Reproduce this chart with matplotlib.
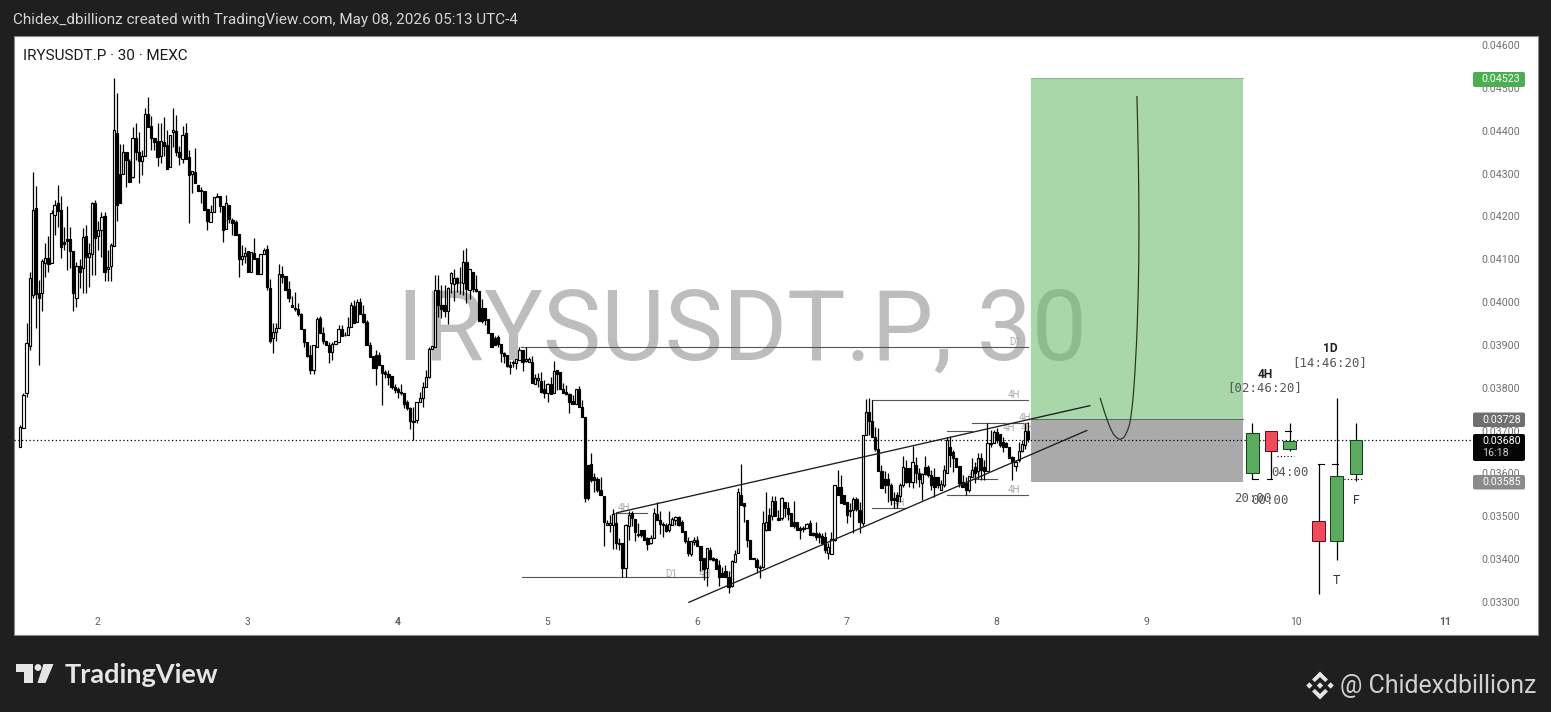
import matplotlib
matplotlib.use("Agg")
import matplotlib.pyplot as plt
import numpy as np
from matplotlib.patches import Rectangle, FancyBboxPatch, Polygon, PathPatch
from matplotlib.path import Path
from matplotlib.transforms import IdentityTransform

# 30m candles, prices in 1e-5 units
opens = [
    3662, 3705, 3788, 3898, 4016, 4219, 4020, 4020, 4090, 4102,
    4090, 4203, 4230, 4215, 4141, 4147, 4147, 4119, 4009, 4083,
    4079, 4153, 4104, 4112, 4230, 4154, 4168, 4201, 4077, 4085,
    4131, 4394, 4300, 4299, 4351, 4330, 4293, 4384, 4351, 4330,
    4342, 4440, 4412, 4384, 4376, 4342, 4374, 4367, 4316, 4396,
    4399, 4351, 4335, 4394, 4338, 4300, 4304, 4273, 4262, 4260,
    4217, 4186, 4209, 4244, 4248, 4225, 4170, 4226, 4191, 4187,
    4159, 4100, 4108, 4118, 4069, 4115, 4102, 4065, 4112, 4123,
    4032, 3915, 3929, 3940, 4065, 4061, 4030, 3993, 3987, 3983,
    3972, 3938, 3907, 3876, 3841, 3896, 3962, 3928, 3909, 3900,
    3883, 3903, 3907, 3937, 3923, 3922, 3941, 3991, 3954, 4001,
    3972, 3954, 3900, 3874, 3876, 3876, 3853, 3837, 3831, 3827,
    3802, 3798, 3791, 3787, 3767, 3752, 3719, 3725, 3766, 3777,
    3802, 3824, 3891, 3894, 4028, 3993, 3993, 3980, 4044, 4042,
    4055, 4046, 4045, 4094, 4028, 4071, 4030, 4026, 3987, 3987,
    3960, 3928, 3917, 3919, 3902, 3882, 3876, 3854, 3861, 3857,
    3865, 3888, 3862, 3861, 3859, 3809, 3818, 3815, 3796, 3787,
    3809, 3787, 3841, 3836, 3796, 3789, 3785, 3769, 3763, 3797,
    3756, 3732, 3619, 3621, 3591, 3586, 3561, 3548, 3480, 3479,
    3479, 3485, 3438, 3437, 3378, 3476, 3507, 3494, 3456, 3468,
    3468, 3448, 3437, 3448, 3505, 3491, 3481, 3480, 3468, 3480,
    3491, 3499, 3487, 3466, 3441, 3412, 3440, 3445, 3431, 3402,
    3378, 3421, 3402, 3399, 3386, 3368, 3371, 3359, 3336, 3394,
    3413, 3550, 3530, 3491, 3445, 3403, 3398, 3382, 3381, 3468,
    3503, 3501, 3536, 3495, 3495, 3534, 3518, 3508, 3487, 3487,
    3472, 3470, 3472, 3485, 3460, 3460, 3459, 3454, 3452, 3413,
    3412, 3445, 3567, 3569, 3550, 3532, 3515, 3515, 3539, 3515,
    3483, 3690, 3744, 3723, 3686, 3658, 3606, 3588, 3588, 3573,
    3542, 3550, 3546, 3573, 3612, 3612, 3581, 3620, 3600, 3578,
    3616, 3616, 3596, 3592, 3592, 3561, 3573, 3602, 3662, 3651,
    3637, 3617, 3581, 3577, 3561, 3592, 3614, 3606, 3637, 3616,
    3606, 3669, 3670, 3697, 3693, 3674, 3672, 3662, 3639, 3617,
    3631, 3653, 3666, 3700,
]
closes = [
    3708, 3783, 3904, 4055, 4215, 4018, 4009, 4096, 4102, 4089,
    4207, 4226, 4212, 4129, 4135, 4142, 4118, 4020, 4083, 4071,
    4151, 4104, 4115, 4232, 4149, 4168, 4199, 4071, 4081, 4133,
    4402, 4226, 4230, 4351, 4332, 4281, 4382, 4351, 4330, 4342,
    4440, 4409, 4382, 4374, 4339, 4377, 4364, 4310, 4389, 4402,
    4351, 4338, 4391, 4335, 4297, 4307, 4279, 4258, 4258, 4215,
    4189, 4211, 4246, 4248, 4223, 4167, 4230, 4193, 4185, 4157,
    4100, 4107, 4115, 4069, 4116, 4100, 4065, 4112, 4121, 4036,
    3909, 3931, 3940, 4065, 4058, 4028, 4009, 3988, 3983, 3972,
    3936, 3907, 3874, 3841, 3900, 3960, 3927, 3909, 3900, 3883,
    3903, 3909, 3937, 3921, 3924, 3942, 3993, 3952, 4001, 3973,
    3954, 3900, 3872, 3845, 3847, 3853, 3835, 3833, 3826, 3801,
    3795, 3791, 3787, 3763, 3752, 3723, 3722, 3766, 3777, 3802,
    3826, 3890, 3897, 4028, 3993, 3983, 3979, 4032, 4067, 4055,
    4045, 4047, 4093, 4030, 4076, 4030, 4026, 3956, 3956, 3958,
    3927, 3894, 3900, 3903, 3880, 3874, 3851, 3849, 3857, 3866,
    3888, 3861, 3866, 3866, 3812, 3823, 3822, 3791, 3787, 3809,
    3785, 3840, 3833, 3796, 3787, 3785, 3767, 3763, 3797, 3756,
    3732, 3542, 3542, 3585, 3585, 3561, 3549, 3487, 3483, 3483,
    3504, 3438, 3436, 3378, 3480, 3503, 3495, 3462, 3459, 3455,
    3445, 3435, 3448, 3507, 3491, 3481, 3479, 3466, 3482, 3493,
    3499, 3479, 3464, 3441, 3413, 3442, 3445, 3431, 3398, 3376,
    3425, 3400, 3398, 3376, 3359, 3359, 3359, 3334, 3396, 3412,
    3557, 3526, 3524, 3445, 3400, 3399, 3381, 3380, 3485, 3487,
    3468, 3536, 3501, 3491, 3542, 3518, 3504, 3476, 3476, 3468,
    3468, 3473, 3482, 3456, 3456, 3452, 3451, 3437, 3420, 3429,
    3446, 3572, 3550, 3530, 3529, 3503, 3511, 3539, 3516, 3487,
    3690, 3744, 3723, 3686, 3658, 3606, 3565, 3573, 3573, 3538,
    3538, 3536, 3573, 3616, 3581, 3581, 3627, 3602, 3587, 3598,
    3599, 3596, 3573, 3569, 3573, 3575, 3608, 3678, 3643, 3637,
    3616, 3577, 3569, 3561, 3594, 3609, 3600, 3637, 3608, 3606,
    3670, 3672, 3697, 3678, 3666, 3662, 3662, 3637, 3627, 3627,
    3653, 3669, 3700, 3680,
]
highs = [
    3713, 3787, 3950, 4071, 4303, 4271, 4051, 4100, 4137, 4153,
    4215, 4238, 4273, 4248, 4176, 4224, 4176, 4119, 4094, 4100,
    4172, 4180, 4137, 4234, 4238, 4188, 4209, 4209, 4121, 4137,
    4522, 4487, 4370, 4370, 4351, 4335, 4409, 4419, 4398, 4355,
    4454, 4479, 4434, 4384, 4419, 4419, 4431, 4402, 4389, 4452,
    4437, 4364, 4411, 4419, 4355, 4307, 4359, 4273, 4269, 4260,
    4217, 4226, 4246, 4255, 4248, 4225, 4250, 4226, 4195, 4191,
    4159, 4133, 4129, 4118, 4116, 4149, 4102, 4112, 4125, 4133,
    4053, 3950, 3950, 4088, 4084, 4061, 4050, 4013, 4024, 3997,
    3975, 3938, 3907, 3900, 3900, 3966, 3967, 3942, 3909, 3907,
    3907, 3909, 3946, 3946, 3930, 3964, 4001, 4005, 4008, 4010,
    3993, 3958, 3907, 3874, 3888, 3884, 3853, 3841, 3841, 3827,
    3808, 3802, 3809, 3787, 3771, 3754, 3754, 3766, 3791, 3814,
    3841, 3896, 3897, 4063, 4063, 4040, 4040, 4036, 4071, 4076,
    4059, 4082, 4121, 4125, 4076, 4071, 4063, 4026, 4008, 3987,
    3960, 3928, 3921, 3923, 3902, 3884, 3876, 3863, 3865, 3866,
    3896, 3888, 3894, 3872, 3874, 3833, 3835, 3837, 3818, 3810,
    3826, 3863, 3841, 3836, 3812, 3806, 3787, 3783, 3798, 3804,
    3771, 3732, 3619, 3647, 3600, 3592, 3592, 3548, 3491, 3503,
    3516, 3507, 3450, 3437, 3482, 3511, 3511, 3494, 3483, 3468,
    3468, 3452, 3456, 3518, 3534, 3511, 3487, 3483, 3511, 3499,
    3500, 3500, 3491, 3466, 3452, 3442, 3452, 3454, 3431, 3402,
    3425, 3427, 3404, 3402, 3398, 3382, 3386, 3371, 3398, 3421,
    3565, 3622, 3530, 3491, 3445, 3403, 3402, 3386, 3511, 3557,
    3518, 3546, 3546, 3515, 3544, 3534, 3534, 3508, 3536, 3487,
    3476, 3476, 3483, 3490, 3462, 3487, 3464, 3460, 3464, 3437,
    3464, 3572, 3608, 3596, 3550, 3532, 3530, 3544, 3544, 3534,
    3690, 3773, 3775, 3771, 3709, 3705, 3620, 3606, 3600, 3577,
    3557, 3557, 3577, 3641, 3631, 3612, 3664, 3639, 3612, 3600,
    3641, 3620, 3608, 3612, 3592, 3584, 3620, 3686, 3687, 3655,
    3637, 3617, 3596, 3592, 3594, 3637, 3627, 3647, 3647, 3631,
    3717, 3701, 3701, 3705, 3693, 3686, 3674, 3662, 3641, 3631,
    3674, 3679, 3717, 3720,
]
lows = [
    3662, 3705, 3779, 3888, 4009, 3939, 3852, 3980, 4059, 4071,
    4090, 4157, 4176, 4102, 4121, 4075, 4079, 3978, 3989, 4032,
    4020, 4020, 4036, 4062, 4063, 4121, 4106, 4050, 4050, 4050,
    4131, 4190, 4230, 4299, 4269, 4281, 4289, 4332, 4277, 4297,
    4342, 4409, 4355, 4355, 4318, 4324, 4341, 4310, 4316, 4363,
    4342, 4320, 4324, 4335, 4185, 4255, 4279, 4258, 4230, 4215,
    4168, 4186, 4209, 4244, 4209, 4141, 4170, 4185, 4157, 4157,
    4058, 4087, 4090, 4069, 4069, 4100, 4065, 4065, 4112, 4027,
    3904, 3880, 3908, 3940, 4044, 4028, 3999, 3988, 3978, 3968,
    3936, 3896, 3872, 3833, 3833, 3896, 3927, 3903, 3900, 3858,
    3865, 3903, 3907, 3921, 3920, 3922, 3941, 3952, 3954, 3973,
    3950, 3900, 3872, 3845, 3806, 3853, 3760, 3822, 3806, 3796,
    3787, 3775, 3783, 3752, 3748, 3703, 3678, 3717, 3766, 3754,
    3802, 3822, 3891, 3894, 3964, 3962, 3966, 3949, 4020, 4003,
    4024, 4019, 4016, 3998, 4008, 4024, 4024, 3956, 3950, 3946,
    3927, 3894, 3900, 3896, 3861, 3857, 3849, 3833, 3849, 3843,
    3865, 3840, 3861, 3861, 3812, 3809, 3802, 3787, 3775, 3767,
    3785, 3787, 3795, 3796, 3787, 3783, 3740, 3763, 3763, 3756,
    3732, 3534, 3538, 3581, 3557, 3557, 3549, 3431, 3479, 3462,
    3423, 3423, 3420, 3359, 3359, 3445, 3476, 3441, 3452, 3452,
    3445, 3420, 3435, 3448, 3491, 3459, 3452, 3464, 3464, 3480,
    3480, 3477, 3464, 3437, 3407, 3407, 3433, 3431, 3373, 3351,
    3336, 3398, 3396, 3376, 3336, 3359, 3359, 3320, 3334, 3394,
    3413, 3526, 3487, 3429, 3400, 3399, 3368, 3355, 3378, 3466,
    3468, 3491, 3501, 3491, 3491, 3499, 3491, 3476, 3472, 3468,
    3446, 3464, 3472, 3456, 3454, 3445, 3437, 3433, 3415, 3399,
    3412, 3441, 3550, 3530, 3529, 3483, 3499, 3460, 3511, 3460,
    3476, 3690, 3690, 3684, 3653, 3606, 3565, 3553, 3534, 3526,
    3518, 3518, 3534, 3569, 3577, 3567, 3565, 3577, 3569, 3538,
    3596, 3592, 3561, 3544, 3565, 3560, 3569, 3600, 3616, 3604,
    3616, 3569, 3567, 3550, 3557, 3592, 3577, 3588, 3584, 3584,
    3606, 3662, 3670, 3670, 3662, 3651, 3662, 3635, 3584, 3606,
    3627, 3651, 3658, 3674,
]

# higher timeframe candles on the right
proj_x = [394.9, 400.9, 406.9, 416.1, 421.9, 428.1]
proj_open = [3601, 3699, 3657, 3489, 3442, 3599]
proj_close = [3695, 3653, 3676, 3442, 3594, 3678]
proj_high = [3718, 3699, 3718, 3622, 3776, 3718]
proj_low = [3587, 3587, 3653, 3319, 3398, 3583]

# trend lines and levels (start, end, price)
wedge_upper = ([191.2, 342.8], [3508, 3758])
wedge_lower = ([214.3, 341.8], [3299, 3700])
levels = [
    (160.5, 323, 3895), (160.8, 220.3, 3358), (273, 323, 3772), (305, 323, 3718),
    (297, 305, 3699), (305, 313, 3587), (297, 323, 3550), (273, 283.5, 3519),
    (190, 200.8, 3508),
]
level_tags = [
    (318.8, 3907, "D1"), (208.5, 3365, "D1"), (219.5, 3365, "4H"), (318.5, 3782, "4H"),
    (322, 3730, "4H"), (317, 3707, "4H"), (322.5, 3707, "4H"), (318.5, 3561, "4H"),
    (281.5, 3530, "4H"), (306, 3598, "4H"), (193.5, 3518, "4H"),
]

# hand drawn path in the long box
path_x = [346.1, 347.7, 349.9, 351.5, 352.8, 354.5, 356.2, 357.6, 358.4, 358.6, 358.4, 357.9]
path_y = [3776, 3737, 3695, 3682, 3678, 3690, 3730, 3865, 4028, 4168, 4332, 4481]

last_price = 3678
price_ticks = np.arange(3300, 4601, 100)
day_ticks = [24.8, 72.8, 120.9, 168.9, 216.9, 264.8, 312.8, 360.9, 409, 456.8]
day_labels = ["2", "3", "4", "5", "6", "7", "8", "9", "10", "11"]

W, H = 1551, 712
plt.rcParams['font.family'] = ['Roboto', 'DejaVu Sans']
fig = plt.figure(figsize=(W / 100, H / 100), dpi=100, facecolor="#1f1f1f")
ident = IdentityTransform()


def box(x0, y0, x1, y1, color, z=5, ec="none", lw=0, round_px=0):
    if round_px:
        p = FancyBboxPatch((x0, H - y1), x1 - x0, y1 - y0, boxstyle="round,pad=0,rounding_size=%d" % round_px,
                           fc=color, ec=ec, lw=lw, transform=ident, zorder=z)
    else:
        p = Rectangle((x0, H - y1), x1 - x0, y1 - y0, fc=color, ec=ec, lw=lw, transform=ident, zorder=z)
    fig.add_artist(p)


def label(x, y, s, size, color, ha="left", va="center", z=6, **kw):
    t = fig.text(x / W, 1 - y / H, s, fontsize=size, color=color, ha=ha, va=va, zorder=z, **kw)
    return t


def poly(pts, cx, cy, fc="#e6e6e6"):
    fig.add_artist(Polygon([(cx + a, cy + b) for a, b in pts], fc=fc, ec="none", transform=ident, zorder=6))


box(13.5, 35.5, 1537.5, 634.5, "white", z=-1, ec="#8a8a8a", lw=0.8)

ax = fig.add_axes([14 / W, 1 - 634 / H, (1472 - 14) / W, (634 - 36) / H])
ax.set_facecolor("none")
for s in ax.spines.values():
    s.set_visible(False)
ax.set_xlim(-2.02, 465.3)
ax.set_ylim(3225, 4621)

# watermark sits under everything
ax.text(231.4, 3865, "IRYSUSDT.P, 30", fontsize=70.6, color="#bdbdbd", ha="center", va="baseline", zorder=0)

# long position box
ax.add_patch(Rectangle((323.8, 3728), 391.9 - 323.8, 4523 - 3728, fc="#6bba6b", alpha=0.58, ec="none", zorder=1))
ax.add_patch(Rectangle((323.8, 3580), 391.9 - 323.8, 3728 - 3580, fc="#777777", alpha=0.62, ec="none", zorder=1))
ax.plot([323.8, 391.9], [4523, 4523], color="#8fb892", lw=0.7, zorder=1.5)
ax.plot([323.8, 391.9], [3728, 3728], color="#5a6a5a", lw=0.7, zorder=1.5)

# last price line
ax.axhline(last_price, color="black", lw=0.9, ls=(0, (1, 2)), zorder=2)

for x0, x1, p in levels:
    ax.plot([x0, x1], [p, p], color="#555555", lw=0.8, zorder=2)
for x, p, s in level_tags:
    ax.text(x, p, s, fontsize=7, color="#a8a8a8", ha="center", va="center", zorder=2)

# candles
idx = np.arange(len(opens))
o = np.array(opens)
c = np.array(closes)
ax.vlines(idx, lows, highs, color="black", lw=0.9, zorder=3)
up = c >= o
ax.bar(idx[up], c[up] - o[up], bottom=o[up], width=0.72, color="white", edgecolor="black", lw=0.85, zorder=4)
ax.bar(idx[~up], o[~up] - c[~up], bottom=c[~up], width=0.72, color="black", edgecolor="black", lw=0.85, zorder=4)

ax.plot(wedge_upper[0], wedge_upper[1], color="#1c1c1c", lw=0.95, zorder=5)
ax.plot(wedge_lower[0], wedge_lower[1], color="#1c1c1c", lw=0.95, zorder=5)

# smooth the drawn path through its points
pts = list(zip(path_x, path_y))
verts = [pts[0]]
codes = [Path.MOVETO]
for a, b in zip(pts[1:-1], pts[2:]):
    verts += [a, ((a[0] + b[0]) / 2, (a[1] + b[1]) / 2)]
    codes += [Path.CURVE3, Path.CURVE3]
verts.append(pts[-1])
codes.append(Path.LINETO)
ax.add_patch(PathPatch(Path(verts, codes), fc="none", ec="#23341f", lw=0.85, zorder=5))

# projected candles
for x, op, cl, hi, lo in zip(proj_x, proj_open, proj_close, proj_high, proj_low):
    rising = cl >= op
    ax.vlines(x, lo, hi, color="black", lw=0.9, zorder=5)
    ax.bar(x, abs(cl - op), bottom=min(op, cl), width=4.1, color="#5aab5e" if rising else "#ef4b5c",
           edgecolor="#123d14" if rising else "#5a0f18", lw=0.7, zorder=6)

ax.set_yticks(price_ticks)
ax.set_yticklabels(["%.5f" % (p / 1e5) for p in price_ticks])
ax.yaxis.tick_right()
ax.tick_params(axis="y", length=0, pad=7, labelsize=7.7, labelcolor="#707070")
ax.set_xticks(day_ticks)
ax.set_xticklabels(day_labels)
ax.tick_params(axis="x", length=0, pad=-12, labelsize=7.4, labelcolor="#5c5c5c")
ax.get_xticklabels()[2].set_fontweight("bold")
ax.get_xticklabels()[9].set_fontweight("bold")

# price tags
box(1473, 72, 1525, 87, "#4cae50", round_px=2)
label(1481.5, 79.5, "0.04523", 7.7, "white")
box(1473, 412.5, 1525, 427, "#6f6f6f", round_px=2)
label(1482, 420, "0.03728", 7.7, "white")
box(1473, 434, 1525, 461, "#050505", round_px=2)
label(1482, 441, "0.03680", 7.7, "white")
label(1482, 453, "16:18", 7.7, "#d0d0d0")
box(1473, 475, 1525, 489.5, "#8b8b8b", round_px=2)
label(1482, 482, "0.03585", 7.7, "white")

# header, chart title
label(13, 20, "Chidex_dbillionz created with TradingView.com, May 08, 2026 05:13 UTC-4", 11.0, "#d6d6d6")
label(23, 55.5, "IRYSUSDT.P · 30 · MEXC", 10.98, "#1a1a1a")

# countdown labels
mono = "DejaVu Sans Mono"
label(1265, 374, "4H", 8.6, "#222222", ha="center", weight="bold")
label(1265, 388, "[02:46:20]", 8.9, "#555555", ha="center", family=mono)
label(1330, 349, "1D", 8.6, "#222222", ha="center", weight="bold")
label(1330, 363, "[14:46:20]", 8.9, "#555555", ha="center", family=mono)
label(1290.5, 472, "04:00", 8.9, "#555555", ha="center", family=mono)
label(1252.5, 498, "20:00", 8.9, "#555555", ha="center", family=mono)
label(1270, 500, "00:00", 8.9, "#555555", ha="center", family=mono)
label(1356, 500, "F", 8.8, "#333333", ha="center")
label(1336, 580, "T", 8.8, "#333333", ha="center")

# small bracket marks next to the projected candles
for x0, x1, yy in [(1252, 1258, 479), (1267, 1272, 479), (1285, 1291, 431), (1318, 1324, 464), (1332, 1338, 464)]:
    fig.add_artist(plt.Line2D([x0, x1], [H - yy, H - yy], color="black", lw=0.8, transform=ident, zorder=6))
for x0, x1, yy in [(1277, 1294, 456), (1344, 1363, 479)]:
    fig.add_artist(plt.Line2D([x0, x1], [H - yy, H - yy], color="black", lw=0.8, ls=(0, (1, 2)), transform=ident, zorder=6))

# footer
label(65, 675, "TradingView", 19.5, "#e6e6e6", weight="bold", family="Lato")
label(1340, 685.5, "@ Chidexdbillionz", 17.9, "#d0d0d0")

# TradingView logo
poly([(0, 0), (17, 0), (17, -19), (8, -19), (8, -8), (0, -8)], 16, H - 664)
fig.add_artist(plt.Circle((38, H - 667.5), 3.4, fc="#e6e6e6", ec="none", transform=ident, zorder=6))
poly([(0, 0), (10, 0), (2, -19), (-6, -19)], 43.5, H - 664)

# Binance logo
bx, by = 1320, H - 685.5
small = [(-3.2, 0), (0, 3.2), (3.2, 0), (0, -3.2)]
poly(small, bx, by)
poly(small, bx - 10.6, by)
poly(small, bx + 10.6, by)
chevron = [(0, 14), (8, 6), (5.2, 3.4), (0, 8.4), (-5.2, 3.4), (-8, 6)]
poly(chevron, bx, by)
poly([(a, -b) for a, b in chevron], bx, by)

fig.savefig("out.png", dpi=100, facecolor=fig.get_facecolor())
